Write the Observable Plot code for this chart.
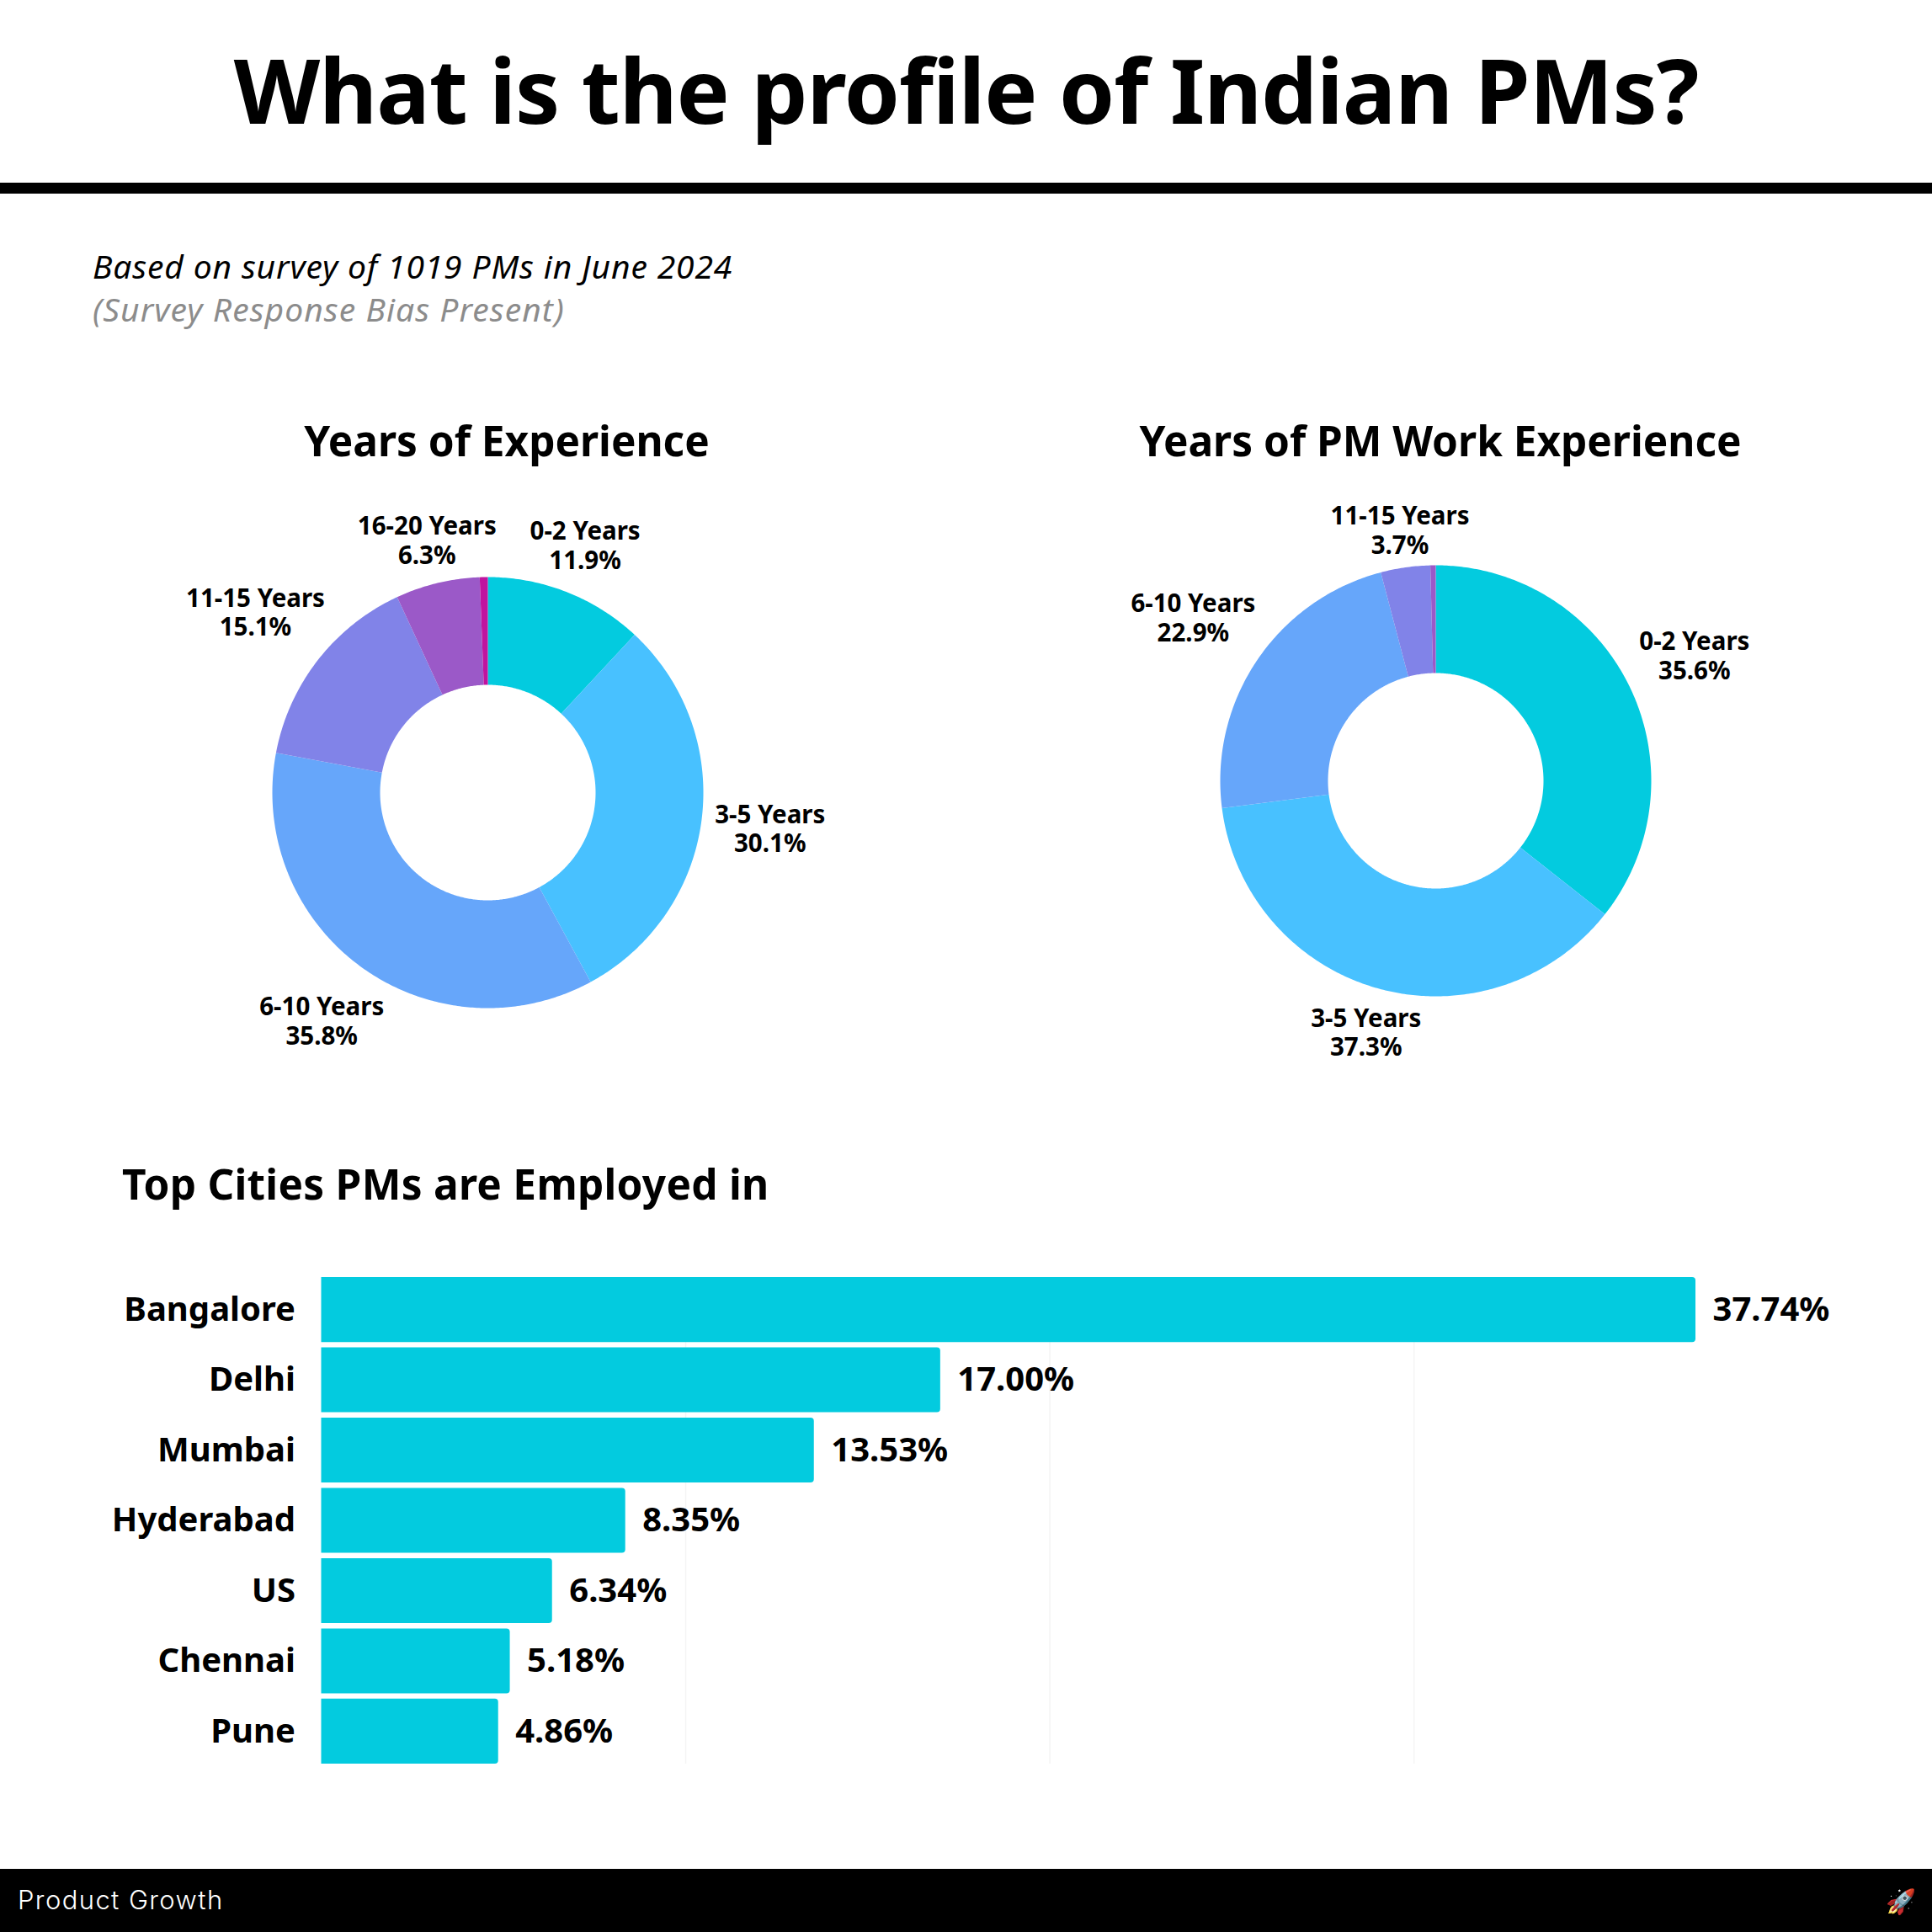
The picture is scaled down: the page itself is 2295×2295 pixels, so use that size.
<!DOCTYPE html>
<html><head><meta charset="utf-8">
<script src="https://cdn.jsdelivr.net/npm/d3@7"></script>
<script src="https://cdn.jsdelivr.net/npm/@observablehq/plot@0.6"></script>
<style>
html,body{margin:0;padding:0;background:#fff}
#page{position:relative;width:2295px;height:2295px;overflow:hidden;font-family:"Noto Sans",sans-serif;color:#000}
#page>*{position:absolute}
#title{left:0;width:2295px;top:36px;text-align:center;font-size:106px;letter-spacing:-1px;font-weight:700;line-height:140px;white-space:nowrap}
#rule{left:0;width:2295px;top:217px;height:13px;background:#000}
#sub1,#sub2{left:110px;font-size:39px;letter-spacing:.85px;font-style:italic;line-height:50px;white-space:nowrap}
#sub1{top:291px}#sub2{top:342px;color:#8c8c8c}
#sub2{letter-spacing:1.05px}
.head{font-size:49.5px;font-weight:700;line-height:64px;white-space:nowrap}
#h1,#h2{transform:translateX(-50%)}
#h1{left:602px;top:491px}#h2{left:1711px;top:491px}#h3{left:145px;top:1374px;letter-spacing:.3px}
#footer{left:0;top:2220px;width:2295px;height:75px;background:#000}
#brand{left:21px;top:2234px;color:#fff;font-family:Inter,sans-serif;font-weight:300;font-size:31px;letter-spacing:1.4px;line-height:46px;white-space:nowrap}
#rocket{left:2240px;top:2235px;font-size:29px;line-height:46px}
svg{overflow:visible}
</style></head><body>
<div id="page">
<div id="title">What is the profile of Indian PMs?</div>
<div id="rule"></div>
<div id="sub1">Based on survey of 1019 PMs in June 2024</div>
<div id="sub2">(Survey Response Bias Present)</div>
<div id="h1" class="head">Years of Experience</div>
<div id="h2" class="head">Years of PM Work Experience</div>
<div id="h3" class="head">Top Cities PMs are Employed in</div>
<div id="footer"></div>
<div id="brand">Product Growth</div>
<div id="rocket">🚀</div>
</div>
<script>
// ---- data ----
const totalBands = ["0-2 Years","3-5 Years","6-10 Years","11-15 Years","16-20 Years","20+ Years"];
const totalValues = [11.9,30.1,35.8,15.1,6.3,0.6];
const pmBands = ["0-2 Years","3-5 Years","6-10 Years","11-15 Years","16-20 Years"];
const pmValues = [35.6,37.3,22.9,3.7,0.4];
const bandColors = ["#03cbdf","#48c1ff","#66a6fa","#8183e8","#9b59c8","#c0149f"];
const cities = ["Bangalore","Delhi","Mumbai","Hyderabad","US","Chennai","Pune"];
const cityValues = [37.74,17.00,13.53,8.35,6.34,5.18,4.86];

// ---- donuts ----
const page = document.getElementById("page");
const font = '"Noto Sans",sans-serif';
function donut(bands, values, labelled, labelReach, cx, cy) {
  const R = 256, W = 1100, H = 780, hole = 0.5;
  const total = d3.sum(values);
  let acc = 0;
  const slices = values.map((v, i) => {
    const a0 = acc / total * 2 * Math.PI; acc += v;
    const a1 = acc / total * 2 * Math.PI;
    return {name: bands[i], value: v, a0, a1, mid: (a0 + a1) / 2, reach: labelReach[i]};
  });
  const features = slices.map(s => {
    const n = Math.max(2, Math.ceil((s.a1 - s.a0) / 0.01));
    const t = d3.range(n + 1).map(k => s.a0 + (s.a1 - s.a0) * k / n);
    const ring = [...t.map(a => [Math.sin(a), Math.cos(a)]),
                  ...t.reverse().map(a => [hole * Math.sin(a), hole * Math.cos(a)])];
    ring.push(ring[0]);
    return {type: "Feature", properties: {name: s.name}, geometry: {type: "Polygon", coordinates: [ring]}};
  });
  const shown = slices.slice(0, labelled);
  const plot = Plot.plot({
    width: W, height: H, margin: 0,
    style: {fontFamily: font, background: "transparent"},
    x: {domain: [-W / 2 / R, W / 2 / R], axis: null},
    y: {domain: [-H / 2 / R, H / 2 / R], axis: null},
    color: {domain: totalBands, range: bandColors},
    marks: [
      Plot.geo(features, {fill: d => d.properties.name}),
      Plot.text(shown, {
        x: s => s.reach * Math.sin(s.mid),
        y: s => s.reach * Math.cos(s.mid),
        text: s => `${s.name}\n${s.value.toFixed(1)}%`,
        fontSize: 29.5, fontWeight: 700, lineHeight: 1.17, fill: "#000"
      })
    ]
  });
  plot.style.left = (cx - W / 2) + "px";
  plot.style.top = (cy - H / 2) + "px";
  page.appendChild(plot);
}
donut(totalBands, totalValues, 5, [1.234,1.32,1.309,1.366,1.206], 578.5, 941);
donut(pmBands, pmValues, 4, [1.334,1.21,1.357,1.176], 1705, 927);

// ---- bars ----
const rows = cities.map((city, i) => ({city, value: cityValues[i]}));
const bars = Plot.plot({
  width: 2295, height: 578, marginTop: 0, marginBottom: 0, marginLeft: 381.5, marginRight: 281,
  style: {fontFamily: font, background: "transparent"},
  x: {domain: [0, 37.74], axis: null},
  y: {domain: cities, paddingInner: 0.076, paddingOuter: 0, round: false, label: null},
  marks: [
    Plot.ruleX([10,20,30], {stroke: "#f4f4f4", strokeWidth: 1.5}),
    Plot.barX(rows, {x: "value", y: "city", fill: "#03cbdf", rx2: 4}),
    Plot.axisY({tickSize: 0, tickPadding: 31, fontSize: 40, fontWeight: 700, fill: "#000", label: null}),
    Plot.text(rows, {x: "value", y: "city", text: d => d.value.toFixed(2) + "%", textAnchor: "start", dx: 20, fontSize: 40, fontWeight: 700, fill: "#000"})
  ]
});
bars.style.left = "0px";
bars.style.top = "1517px";
page.appendChild(bars);
</script>
</body></html>
